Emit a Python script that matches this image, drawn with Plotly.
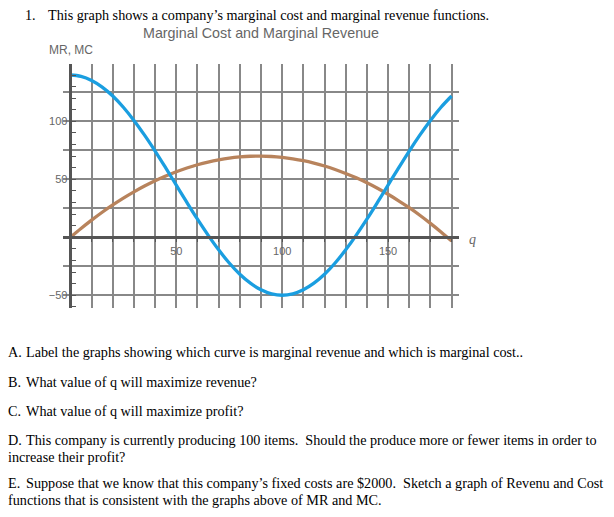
import plotly.graph_objects as go

# quantity q (x axis)
q = [0, 5, 10, 15, 20, 25, 30, 35, 40, 45, 50, 55, 60, 65, 70, 75, 80, 85, 90,
     95, 100, 105, 110, 115, 120, 125, 130, 135, 140, 145, 150, 155, 160, 165,
     170, 175, 180]

# marginal cost (blue)
mc = [140, 138.8, 135.3, 129.6, 121.9, 112.2, 100.8, 88.1, 74.4, 59.9, 45,
      30.1, 15.6, 1.9, -10.8, -22.2, -31.9, -39.6, -45.3, -48.8, -50,
      -48.8, -45.3, -39.6, -31.9, -22.2, -10.8, 1.9, 15.6, 30.1, 45,
      59.9, 74.4, 88.1, 100.8, 112.2, 121.9]

# marginal revenue (brown)
mr = [0, 7.6, 14.8, 21.6, 27.9, 33.8, 39.2, 44.2, 48.8, 52.9, 56.6,
      59.8, 62.6, 64.9, 66.8, 68.3, 69.3, 69.9, 70, 69.7, 68.9,
      67.7, 66.1, 64.0, 61.5, 58.5, 55.1, 51.3, 47.0, 42.3, 37.1,
      31.5, 25.5, 19.0, 12.0, 4.6, -3.2]

x_grid = list(range(0, 181, 10))
x_labels = [str(v) if v in (50, 100, 150) else '' for v in x_grid]
y_grid = [-50, -25, 0, 25, 50, 75, 100, 125, 150]
y_labels = ['\u221250', '', '', '', '50', '', '100', '', '']

header = 'This graph shows a company\u2019s marginal cost and marginal revenue functions.'
questions = [
    ('A.', 'Label the graphs showing which curve is marginal revenue and which is marginal cost..', None),
    ('B.', 'What value of q will maximize revenue?', None),
    ('C.', 'What value of q will maximize profit?', None),
    ('D.', 'This company is currently producing 100 items.\u00a0 Should the produce more or fewer items in order to',
     'increase their profit?'),
    ('E.', 'Suppose that we know that this company\u2019s fixed costs are $2000.\u00a0 Sketch a graph of Revenu and Cost',
     'functions that is consistent with the graphs above of MR and MC.'),
]
question_rows = [352, 382, 411, 440, 483]

W, H = 614, 517
L, R, T, B = 63, 155, 64, 209
PW = W - L - R
PH = H - T - B

X_RANGE = [-3.5, 183.5]
Y_RANGE = [-61, 149.5]


def px(x):
    return (x - L) / PW


def py(y):
    return (H - B - y) / PH


fig = go.Figure()

fig.add_trace(go.Scatter(
    x=q, y=mr, mode='lines',
    line=dict(color='#b8835c', width=3.3, shape='spline', simplify=False),
    showlegend=False, hoverinfo='skip'
))
fig.add_trace(go.Scatter(
    x=q, y=mc, mode='lines',
    line=dict(color='#1a9ee0', width=3.3, shape='spline', simplify=False),
    showlegend=False, hoverinfo='skip'
))

serif = dict(family='Liberation Serif', size=14.2, color='black')
gray = '#666666'

annotations = [
    dict(text='1.', x=px(23), y=py(15), font=serif),
    dict(text=header, x=px(46), y=py(15), font=serif),
    dict(text='MR, MC', x=px(47), y=py(50), font=dict(family='Liberation Sans', size=12, color=gray)),
    dict(text='<i>q</i>', x=px(467), y=py(239), font=dict(family='Liberation Serif', size=14, color=gray)),
]

for (letter, line1, line2), row in zip(questions, question_rows):
    annotations.append(dict(text=letter, x=px(6), y=py(row), font=serif))
    annotations.append(dict(text=line1, x=px(24), y=py(row), font=serif))
    if line2:
        annotations.append(dict(text=line2, x=px(6), y=py(row + 17), font=serif))

for a in annotations:
    a.update(xref='paper', yref='paper', xanchor='left', yanchor='middle', showarrow=False)

annotations.append(dict(
    text='Marginal Cost and Marginal Revenue', x=px(261), y=py(33),
    xref='paper', yref='paper', xanchor='center', yanchor='middle', showarrow=False,
    font=dict(family='Liberation Sans', size=14.3, color=gray)
))

fig.update_layout(
    width=W, height=H,
    margin=dict(l=L, r=R, t=T, b=B, pad=0),
    plot_bgcolor='white',
    paper_bgcolor='white',
    font=dict(family='Liberation Sans', size=11, color=gray),
    annotations=annotations,
    xaxis=dict(
        range=X_RANGE,
        tickmode='array', tickvals=x_grid, ticktext=x_labels,
        showgrid=True, gridcolor='#888888', gridwidth=1.5,
        zeroline=False,
        showline=True, linecolor='#555555', linewidth=2.5,
        anchor='free', position=(0 - Y_RANGE[0]) / (Y_RANGE[1] - Y_RANGE[0]),
        ticks='outside', ticklen=3, tickcolor='#555555',
        tickfont=dict(size=11, color=gray),
    ),
    yaxis=dict(
        range=Y_RANGE,
        tickmode='array', tickvals=y_grid, ticktext=y_labels,
        showgrid=True, gridcolor='#888888', gridwidth=1.5,
        zeroline=False,
        showline=True, linecolor='#555555', linewidth=2.5,
        anchor='free', position=(0 - X_RANGE[0]) / (X_RANGE[1] - X_RANGE[0]),
        ticks='', ticklabelstandoff=0,
        tickfont=dict(size=11, color=gray),
        minor=dict(tickmode='linear', tick0=0, dtick=10, ticks='inside', ticklen=4,
                   tickcolor='#555555', showgrid=False),
    ),
)

fig.write_html("out.html", config={'displayModeBar': False},
               post_script="document.body.style.margin='0';")
